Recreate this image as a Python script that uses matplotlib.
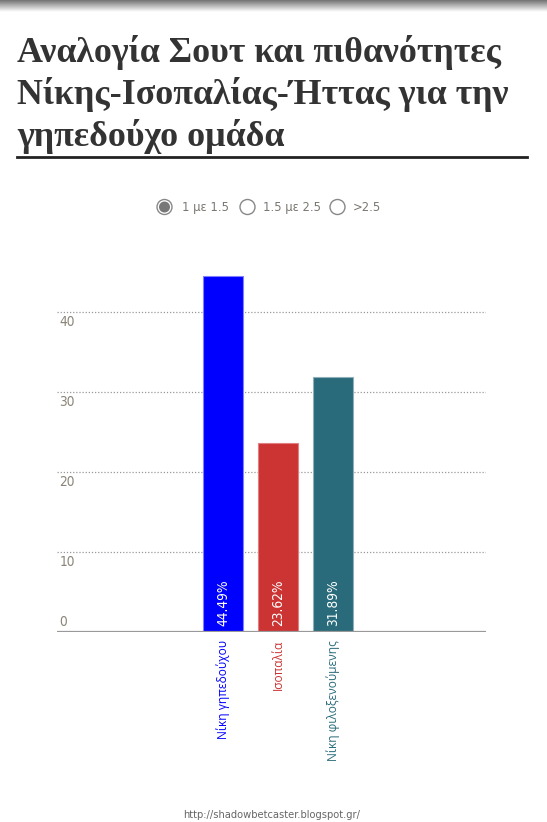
import numpy as np
import matplotlib
matplotlib.use("Agg")
import matplotlib.pyplot as plt
from matplotlib.patches import Ellipse
import matplotlib.font_manager as fm

categories = ["Νίκη γηπεδούχου", "Ισοπαλία", "Νίκη φιλοξενούμενης"]
values = [44.49, 23.62, 31.89]
value_labels = ["44.49%", "23.62%", "31.89%"]
colors = ["#0000FF", "#CC3333", "#296B7A"]
edge_colors = ["#8080FF", "#E08080", "#8FB0B8"]
y_ticks = [0, 10, 20, 30, 40]
radio_labels = ["1 με 1.5", "1.5 με 2.5", ">2.5"]
title = "Αναλογία Σουτ και πιθανότητες\nΝίκης-Ισοπαλίας-Ήττας για την\nγηπεδούχο ομάδα"
footer = "http://shadowbetcaster.blogspot.gr/"

fonts = {(f.name, f.stretch) for f in fm.fontManager.ttflist}
has_cond = any(n == "DejaVu Sans" and s in ("condensed", 500, "semi-condensed") for n, s in fonts)
NARROW = dict(family="DejaVu Sans", fontstretch="condensed") if has_cond else dict(family="DejaVu Sans")

W, H = 547, 822
fig = plt.figure(figsize=(W / 100, H / 100), dpi=100)
fig.patch.set_facecolor("white")

def fx(px):
    return px / W

def fy(py):
    return 1 - py / H

# top shadow gradient
gax = fig.add_axes([0, fy(12), 1, 12 / H])
grad = np.linspace(0.45, 1.0, 50).reshape(-1, 1)
gax.imshow(np.repeat(grad, 10, axis=1), cmap="gray", vmin=0, vmax=1, aspect="auto")
gax.axis("off")

# title
fig.text(fx(17), fy(35), title, ha="left", va="top", fontsize=25.8,
         fontweight="bold", family="Liberation Serif", color="#333333",
         linespacing=1.26)
fig.add_artist(plt.Line2D([fx(17), fx(527)], [fy(157.5), fy(157.5)],
                          color="#222222", lw=2))

# radio buttons
radio_x = [164.5, 247.5, 337.5]
text_off = [17, 15.5, 15.5]
for i, (rx, lab) in enumerate(zip(radio_x, radio_labels)):
    fig.add_artist(Ellipse((fx(rx), fy(207)), 15 / W, 15 / H, transform=fig.transFigure,
                           facecolor="white", edgecolor="#888888", lw=1.0))
    if i == 0:
        fig.add_artist(Ellipse((fx(rx), fy(207)), 11 / W, 11 / H, transform=fig.transFigure,
                               facecolor="#777777", edgecolor="none"))
    fig.text(fx(rx + text_off[i]), fy(207.5), lab, ha="left", va="center", fontsize=9.3,
             color="#7a7770", **NARROW)

# main axes
x = np.arange(len(categories))
left_px, right_px, bottom_px = 57, 486, 632
ymax = 45
top_px = bottom_px - 8 * ymax
ax = fig.add_axes([fx(left_px), fy(bottom_px), (right_px - left_px) / W,
                   (bottom_px - top_px) / H])
ax.set_xlim(-3.018, 4.782)
ax.set_ylim(0, ymax)
for s in ax.spines.values():
    s.set_visible(False)
ax.set_xticks([])
ax.set_yticks([])

for t in y_ticks[1:]:
    ax.axhline(t, color="#999999", lw=0.9, ls=(0, (1, 1.5)), zorder=0)
ax.axhline(0, color="#999999", lw=1.6, zorder=3)

bars = ax.bar(x, values, width=40 / 55, color=colors, edgecolor=edge_colors,
              linewidth=0.8, zorder=2)

trans = ax.get_yaxis_transform()
for t in y_ticks:
    off = 1.2 if t == 0 else -1.25
    ax.text(0.006, t + off, str(t), transform=trans, ha="left", va="center",
            fontsize=9.8, color="#8a8478", **NARROW)

for xi, lab in zip(x, value_labels):
    ax.text(xi, 0.8, lab, rotation=90, ha="center", va="bottom", fontsize=9.8,
            color="white", zorder=4, **NARROW)

for xi, lab, c in zip(x, categories, colors):
    ax.text(xi, -1.0, lab, rotation=90, ha="center", va="top", fontsize=8.6,
            family="Open Sans", color=c, clip_on=False)

fig.text(fx(272), fy(815), footer, ha="center", va="center", fontsize=7.9,
         color="#666666", **NARROW)

fig.savefig("out.png", dpi=100, facecolor="white")
